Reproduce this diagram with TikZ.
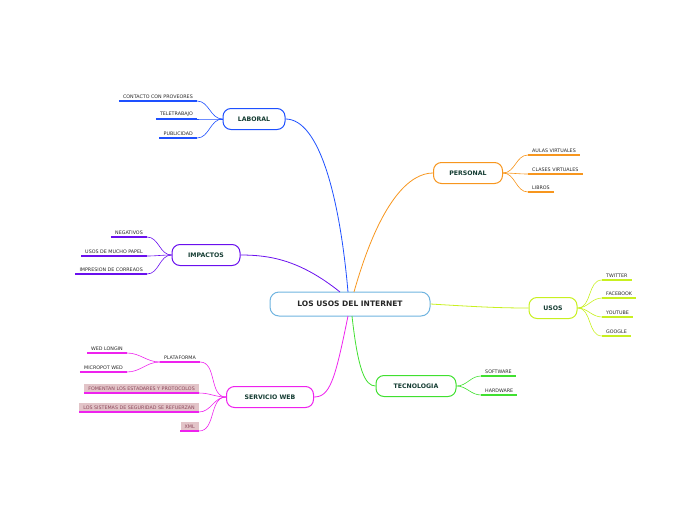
\documentclass[tikz,border=0pt]{standalone}
\usepackage{fontspec}
\setmainfont{DejaVu Sans}
\begin{document}
\begin{tikzpicture}[x=1pt,y=-1pt,
  topic/.style={draw=#1,line width=1pt,rounded corners=8pt,fill=white,font=\fontsize{6.2}{7}\selectfont\bfseries,text={rgb,255:red,20;green,60;blue,50},minimum height=21pt,inner xsep=10pt},
  leaf/.style={font=\fontsize{4.8}{6}\selectfont,text=black!85,inner xsep=4pt,inner ysep=2.5pt},
  ul/.style={line width=1.2pt,draw=#1},
  conn/.style={line width=0.6pt,draw=#1},
  lnk/.style={line width=0.8pt,draw=#1},
  pbox/.style={leaf,fill={rgb,255:red,226;green,196;blue,200},text={rgb,255:red,140;green,70;blue,90}}]
\useasboundingbox (0,0) rectangle (697,520);
\definecolor{cBlue}{HTML}{1E50FF}
\definecolor{cOr}{HTML}{F7961E}
\definecolor{cYg}{HTML}{C8F020}
\definecolor{cGr}{HTML}{40E030}
\definecolor{cMg}{HTML}{EE22EE}
\definecolor{cPu}{HTML}{6A10EE}
\definecolor{cCe}{HTML}{70B4E0}

\node[topic=cCe,font=\fontsize{7.5}{9}\selectfont\bfseries,text=black!85,minimum width=160pt,minimum height=24pt,rounded corners=9pt] (c) at (350,304) {LOS USOS DEL INTERNET};
\node[topic=cBlue,minimum width=62pt] (lab) at (254,119) {LABORAL};
\node[topic=cOr,minimum width=69pt] (per) at (468,173) {PERSONAL};
\node[topic=cYg,minimum width=48pt] (uso) at (553,308) {USOS};
\node[topic=cGr,minimum width=80pt] (tec) at (416,386) {TECNOLOGIA};
\node[topic=cMg,minimum width=87pt] (ser) at (270,397) {SERVICIO WEB};
\node[topic=cPu,minimum width=68pt] (imp) at (206,255) {IMPACTOS};

\draw[lnk=cBlue] (348,292) .. controls (340,200) and (320,119) .. (lab.east);
\draw[lnk=cOr] (354,292) .. controls (380,200) and (410,173) .. (per.west);
\draw[lnk=cYg] (c.east) .. controls (480,307) and (500,308) .. (uso.west);
\draw[lnk=cGr] (352,316) .. controls (358,370) and (365,386) .. (tec.west);
\draw[lnk=cMg] (348,316) .. controls (335,380) and (330,397) .. (ser.east);
\draw[lnk=cPu] (340,292) .. controls (300,260) and (270,255) .. (imp.east);

% LABORAL
\foreach \n/\y/\t in {l1/101/CONTACTO CON PROVEORES,l2/119/TELETRABAJO,l3/138/PUBLICIDAD}{
  \node[leaf,anchor=south east] (\n) at (197,\y) {\t};
  \draw[ul=cBlue] (\n.south west) -- (\n.south east);
  \draw[conn=cBlue] (lab.west) to[out=180,in=0] (\n.south east);}
% PERSONAL
\foreach \n/\y/\t in {p1/155/AULAS VIRTUALES,p2/174/CLASES VIRTUALES,p3/192/LIBROS}{
  \node[leaf,anchor=south west] (\n) at (528,\y) {\t};
  \draw[ul=cOr] (\n.south west) -- (\n.south east);
  \draw[conn=cOr] (per.east) to[out=0,in=180] (\n.south west);}
% USOS
\foreach \n/\y/\t in {u1/280/TWITTER,u2/298/FACEBOOK,u3/317/YOUTUBE,u4/336/GOOGLE}{
  \node[leaf,anchor=south west] (\n) at (602,\y) {\t};
  \draw[ul=cYg] (\n.south west) -- (\n.south east);
  \draw[conn=cYg] (uso.east) to[out=0,in=180] (\n.south west);}
% TECNOLOGIA
\foreach \n/\y/\t in {t1/376/SOFTWARE,t2/395/HARDWARE}{
  \node[leaf,anchor=south west] (\n) at (481,\y) {\t};
  \draw[ul=cGr] (\n.south west) -- (\n.south east);
  \draw[conn=cGr] (tec.east) to[out=0,in=180] (\n.south west);}
% IMPACTOS
\foreach \n/\y/\t in {i1/237/NEGATIVOS,i2/256/USOS DE MUCHO PAPEL,i3/274/IMPRESION DE CORREAOS}{
  \node[leaf,anchor=south east] (\n) at (147,\y) {\t};
  \draw[ul=cPu] (\n.south west) -- (\n.south east);
  \draw[conn=cPu] (imp.west) to[out=180,in=0] (\n.south east);}
% SERVICIO WEB
\node[leaf,anchor=south east] (s1) at (200,362) {PLATAFORMA};
\draw[ul=cMg] (s1.south west) -- (s1.south east);
\draw[conn=cMg] (ser.west) to[out=180,in=0] (s1.south east);
\foreach \n/\y/\t in {s11/353/WED LONGIN,s12/372/MICROPOT WED}{
  \node[leaf,anchor=south east] (\n) at (127,\y) {\t};
  \draw[ul=cMg] (\n.south west) -- (\n.south east);
  \draw[conn=cMg] (s1.south west) to[out=180,in=0] (\n.south east);}
\foreach \n/\y/\t in {s2/393/FOMENTAN LOS ESTADARES Y PROTOCOLOS,s3/412/LOS SISTEMAS DE SEGURIDAD SE REFUERZAN,s4/431/XML}{
  \node[pbox,anchor=south east] (\n) at (199,\y) {\t};
  \draw[ul=cMg] (\n.south west) -- (\n.south east);
  \draw[conn=cMg] (ser.west) to[out=180,in=0] (\n.south east);}
\end{tikzpicture}
\end{document}
